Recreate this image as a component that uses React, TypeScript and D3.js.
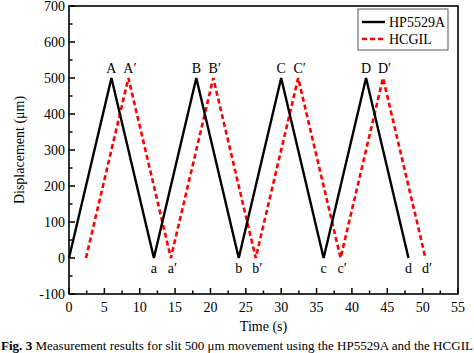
import React, { useEffect, useRef } from 'react';
import * as d3 from 'd3';

const W = 474;
const H = 353;

// HP5529A reference displacement (time s, displacement um)
const hpTime = [0, 6, 12, 18, 24, 30, 36, 42, 48];
const hpDisp = [0, 500, 0, 500, 0, 500, 0, 500, 0];
// HCGIL measurement, lagging ~2.4 s
const hcTime = [2.4, 8.4, 14.4, 20.4, 26.4, 32.4, 38.4, 44.4, 50.4];
const hcDisp = [0, 500, 0, 500, 0, 500, 0, 500, 0];

const peakLabels = ['A', 'B', 'C', 'D'];
const troughLabels = ['a', 'b', 'c', 'd'];

const xTicks = [0, 5, 10, 15, 20, 25, 30, 35, 40, 45, 50, 55];
const yTicks = [-100, 0, 100, 200, 300, 400, 500, 600, 700];

const FONT = 'Liberation Serif';

export default function App() {
  const svgRef = useRef<SVGSVGElement>(null);

  useEffect(() => {
    if (!svgRef.current) return;
    const svg = d3.select(svgRef.current);
    svg.selectAll('*').remove();

    const m = { left: 69, right: 458, top: 6, bottom: 294 };
    const x = d3.scaleLinear().domain([0, 55]).range([m.left, m.right]);
    const y = d3.scaleLinear().domain([-100, 700]).range([m.bottom, m.top]);

    svg.append('rect').attr('width', W).attr('height', H).attr('fill', '#fff');

    // ticks, pointing inward
    const ax = svg.append('g').attr('stroke', '#000').attr('stroke-width', 1.5);
    d3.range(0, 55.1, 2.5).forEach((t) => {
      const major = t % 5 === 0;
      ax.append('line')
        .attr('x1', x(t)).attr('x2', x(t))
        .attr('y1', m.bottom).attr('y2', m.bottom - (major ? 6 : 3.5));
    });
    d3.range(-100, 700.1, 50).forEach((v) => {
      const major = v % 100 === 0;
      ax.append('line')
        .attr('x1', m.left).attr('x2', m.left + (major ? 6 : 3.5))
        .attr('y1', y(v)).attr('y2', y(v));
    });

    // tick labels
    xTicks.forEach((t) => {
      svg.append('text')
        .attr('x', x(t)).attr('y', m.bottom + 18)
        .attr('text-anchor', 'middle')
        .attr('font-family', FONT).attr('font-size', 14)
        .text(t);
    });
    yTicks.forEach((v) => {
      svg.append('text')
        .attr('x', m.left - 4).attr('y', y(v) + 5)
        .attr('text-anchor', 'end')
        .attr('font-family', FONT).attr('font-size', 14)
        .text(v);
    });

    // axis titles
    svg.append('text')
      .attr('x', x(27.5)).attr('y', 331)
      .attr('text-anchor', 'middle')
      .attr('font-family', FONT).attr('font-size', 14)
      .text('Time (s)');
    svg.append('text')
      .attr('transform', `translate(24, ${y(300)}) rotate(-90)`)
      .attr('text-anchor', 'middle')
      .attr('font-family', FONT).attr('font-size', 14)
      .text('Displacement (μm)');

    const line = d3.line<[number, number]>()
      .x((d) => x(d[0]))
      .y((d) => y(d[1]));

    const hp = hpTime.map((t, i) => [t, hpDisp[i]] as [number, number]);
    const hc = hcTime.map((t, i) => [t, hcDisp[i]] as [number, number]);

    svg.append('path')
      .attr('d', line(hc))
      .attr('fill', 'none')
      .attr('stroke', '#ff0000')
      .attr('stroke-width', 2.6)
      .attr('stroke-dasharray', '5,3');
    svg.append('path')
      .attr('d', line(hp))
      .attr('fill', 'none')
      .attr('stroke', '#000')
      .attr('stroke-width', 2.4)
      .attr('stroke-linejoin', 'miter');

    // point labels
    const lbl = (tx: number, ty: number, s: string) =>
      svg.append('text')
        .attr('x', tx).attr('y', ty)
        .attr('text-anchor', 'middle')
        .attr('font-family', FONT).attr('font-size', 14)
        .text(s);
    peakLabels.forEach((p, i) => {
      lbl(x(hpTime[i * 2 + 1]), y(500) - 5, p);
      lbl(x(hcTime[i * 2 + 1]) + 1.5, y(500) - 5, p + '′');
    });
    troughLabels.forEach((p, i) => {
      lbl(x(hpTime[i * 2 + 2]), y(0) + 15, p);
      lbl(x(hcTime[i * 2 + 2]) + 1.5, y(0) + 15, p + '′');
    });

    // frame
    svg.append('rect')
      .attr('x', m.left).attr('y', m.top)
      .attr('width', m.right - m.left).attr('height', m.bottom - m.top)
      .attr('fill', 'none').attr('stroke', '#000').attr('stroke-width', 1.6);

    // legend
    const lg = svg.append('g');
    lg.append('rect')
      .attr('x', 358).attr('y', 9).attr('width', 90).attr('height', 41)
      .attr('fill', '#fff').attr('stroke', '#555').attr('stroke-width', 1);
    lg.append('line')
      .attr('x1', 362).attr('x2', 385).attr('y1', 22).attr('y2', 22)
      .attr('stroke', '#000').attr('stroke-width', 2.4);
    lg.append('line')
      .attr('x1', 362).attr('x2', 385).attr('y1', 39).attr('y2', 39)
      .attr('stroke', '#ff0000').attr('stroke-width', 2.6)
      .attr('stroke-dasharray', '5,3');
    lg.append('text').attr('x', 389).attr('y', 27)
      .attr('font-family', FONT).attr('font-size', 14).text('HP5529A');
    lg.append('text').attr('x', 389).attr('y', 44)
      .attr('font-family', FONT).attr('font-size', 14).text('HCGIL');

    // caption at the bottom edge
    const cap = svg.append('text')
      .attr('x', 1).attr('y', 350)
      .attr('font-family', FONT).attr('font-size', 12.5);
    cap.append('tspan').attr('font-weight', 'bold').text('Fig. 3 ');
    cap.append('tspan').text('Measurement results for slit 500 μm movement using the HP5529A and the HCGIL');
    cap.attr('textLength', 472).attr('lengthAdjust', 'spacingAndGlyphs');
  }, []);

  return (
    <svg
      ref={svgRef}
      width={W}
      height={H}
      style={{ position: 'absolute', left: 0, top: 0, display: 'block' }}
    />
  );
}
